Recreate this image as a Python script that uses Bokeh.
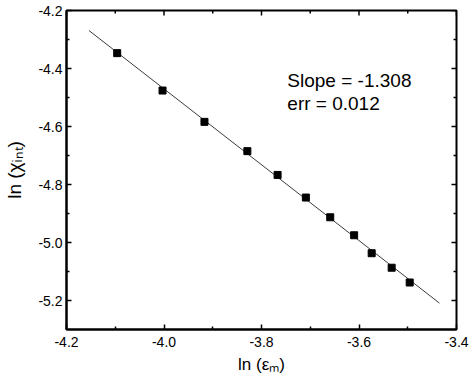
import math
from bokeh.plotting import figure
from bokeh.models import (LinearAxis, FixedTicker, PrintfTickFormatter, Label,
                          ColumnDataSource, Range1d)
from bokeh.embed import file_html
from bokeh.resources import INLINE

# ---- data ----
ln_eps = [-4.096, -4.003, -3.917, -3.829, -3.767, -3.709, -3.659, -3.610, -3.574, -3.533, -3.496]
ln_chi = [-4.347, -4.476, -4.584, -4.685, -4.767, -4.845, -4.913, -4.975, -5.037, -5.087, -5.138]
fit_x = [-4.154, -3.435]
fit_y = [-4.269, -5.209]
x_ticks = [-4.2, -4.0, -3.8, -3.6, -3.4]
x_minor = [-4.1, -3.9, -3.7, -3.5]
y_ticks = [-5.2, -5.0, -4.8, -4.6, -4.4, -4.2]
y_minor = [-5.1, -4.9, -4.7, -4.5, -4.3]
x_lo, x_hi = -4.2, -3.4
y_lo, y_hi = -5.3, -4.2
x_label = "ln (εₘ)"
y_label = "ln (χᵢₙₜ)"
slope_text = "Slope = -1.308"
err_text = "err = 0.012"

FONT = "Liberation Sans"

p = figure(width=474, height=382, output_backend="svg", toolbar_location=None,
           x_range=Range1d(x_lo, x_hi), y_range=Range1d(y_lo, y_hi),
           x_axis_location=None, y_axis_location=None,
           min_border_left=66, min_border_right=18, min_border_top=10, min_border_bottom=53)
p.grid.visible = False
p.outline_line_color = "black"
p.outline_line_width = 2
p.background_fill_color = "white"
p.border_fill_color = "white"


def make_axis(ticks, minor, label, label_size):
    ax = LinearAxis(ticker=FixedTicker(ticks=ticks, minor_ticks=minor),
                    formatter=PrintfTickFormatter(format="%.1f"),
                    axis_label=label)
    ax.axis_line_color = "black"
    ax.axis_line_width = 2
    ax.major_tick_line_color = "black"
    ax.major_tick_line_width = 1.5
    ax.minor_tick_line_color = "black"
    ax.minor_tick_line_width = 1.5
    ax.major_tick_in = 5
    ax.major_tick_out = 0
    ax.minor_tick_in = 3
    ax.minor_tick_out = 0
    ax.major_label_text_font = FONT
    ax.major_label_text_color = "black"
    ax.major_label_text_font_size = "14px"
    ax.axis_label_text_font = FONT
    ax.axis_label_text_font_style = "normal"
    ax.axis_label_text_color = "black"
    ax.axis_label_text_font_size = label_size
    return ax


bx = make_axis(x_ticks, x_minor, x_label, "17px")
bx.major_label_standoff = 7
bx.axis_label_standoff = 5
ly = make_axis(y_ticks, y_minor, y_label, "19px")
ly.major_label_standoff = 4
ly.axis_label_standoff = 10
p.add_layout(bx, "below")
p.add_layout(ly, "left")

# inward ticks on the top and right edges (rays with screen-unit length)
tick_kw = dict(line_color="black", line_width=1.5, length_units="screen")
p.ray(x=x_ticks, y=[y_hi] * len(x_ticks), length=5, angle=-math.pi / 2, **tick_kw)
p.ray(x=x_minor, y=[y_hi] * len(x_minor), length=3, angle=-math.pi / 2, **tick_kw)
p.ray(x=[x_hi] * len(y_ticks), y=y_ticks, length=5, angle=math.pi, **tick_kw)
p.ray(x=[x_hi] * len(y_minor), y=y_minor, length=3, angle=math.pi, **tick_kw)

# fit line and points
p.line(fit_x, fit_y, line_color="#3c3c3c", line_width=1)
src = ColumnDataSource(dict(x=ln_eps, y=ln_chi))
p.scatter("x", "y", source=src, marker="square", size=7, fill_color="black", line_color="black")

# annotation
p.add_layout(Label(x=-3.747, y=-4.441, text=slope_text, text_font=FONT,
                   text_font_size="19px", text_color="black", text_baseline="alphabetic"))
p.add_layout(Label(x=-3.747, y=-4.521, text=err_text, text_font=FONT,
                   text_font_size="19px", text_color="black", text_baseline="alphabetic"))

open("out.html", "w").write(file_html(p, INLINE))
